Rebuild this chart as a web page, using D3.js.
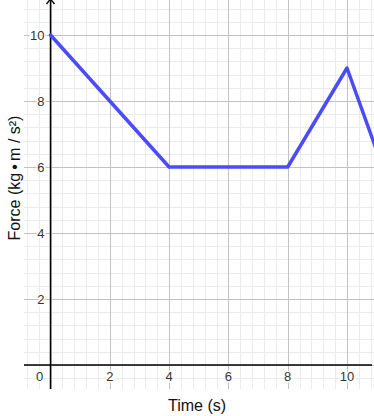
<!DOCTYPE html>
<html>
<head>
<meta charset="utf-8">
<style>
  body { margin: 0; background: #fff; }
  text { font-family: "Liberation Sans", Arial, sans-serif; }
</style>
</head>
<body>
<script src="https://d3js.org/d3.v7.min.js"></script>
<script>
// data
var times = [0, 4, 8, 10, 12];
var forces = [10, 6, 6, 9, 4];
var xTicks = [0, 2, 4, 6, 8, 10];
var yTicks = [2, 4, 6, 8, 10];

var width = 374, height = 416;

// plot region (grid area)
var plotLeft = 24, plotRight = 374, plotTop = 0, plotBottom = 389;

var x = d3.scaleLinear().domain([0, 10]).range([50.5, 347]);
var y = d3.scaleLinear().domain([0, 10]).range([365, 35]);

var svg = d3.select('body').append('svg')
    .attr('width', width)
    .attr('height', height);

svg.append('defs').append('clipPath').attr('id', 'plotClip')
  .append('rect')
    .attr('x', plotLeft).attr('y', plotTop)
    .attr('width', plotRight - plotLeft).attr('height', plotBottom - plotTop);

var grid = svg.append('g').attr('clip-path', 'url(#plotClip)');

var xMin = x.invert(plotLeft), xMax = x.invert(plotRight);
var yMin = y.invert(plotBottom), yMax = y.invert(plotTop);

// minor grid every 0.4, major every 2
function steps(lo, hi, s) {
  return d3.range(Math.ceil(lo / s), Math.floor(hi / s) + 1).map(function(i){ return i * s; });
}
var minorX = steps(xMin, xMax, 0.4), minorY = steps(yMin, yMax, 0.4);
var majorX = steps(xMin, xMax, 2), majorY = steps(yMin, yMax, 2);

function vLines(data, color) {
  grid.append('g').selectAll('line').data(data).enter().append('line')
      .attr('x1', function(d){ return Math.round(x(d)) + 0.5; })
      .attr('x2', function(d){ return Math.round(x(d)) + 0.5; })
      .attr('y1', plotTop).attr('y2', plotBottom)
      .attr('stroke', color).attr('stroke-width', 1);
}
function hLines(data, color) {
  grid.append('g').selectAll('line').data(data).enter().append('line')
      .attr('y1', function(d){ return Math.round(y(d)) + 0.5; })
      .attr('y2', function(d){ return Math.round(y(d)) + 0.5; })
      .attr('x1', plotLeft).attr('x2', plotRight)
      .attr('stroke', color).attr('stroke-width', 1);
}
vLines(minorX, '#ebebeb');
hLines(minorY, '#ebebeb');
vLines(majorX, '#c2c2c2');
hLines(majorY, '#c2c2c2');

// axes
grid.append('line')
    .attr('x1', plotLeft).attr('x2', plotRight - 2)
    .attr('y1', y(0)).attr('y2', y(0))
    .attr('stroke', '#000').attr('stroke-width', 1.5);
grid.append('line')
    .attr('x1', x(0)).attr('x2', x(0))
    .attr('y1', plotTop).attr('y2', plotBottom)
    .attr('stroke', '#000').attr('stroke-width', 1.5);
grid.append('path')
    .attr('d', 'M' + (x(0) - 4) + ',4 L' + x(0) + ',-1 L' + (x(0) + 4) + ',4')
    .attr('fill', 'none').attr('stroke', '#000').attr('stroke-width', 1.3);

// tick labels
var labelG = svg.append('g');
labelG.selectAll('.xl').data(xTicks).enter().append('text')
    .attr('x', function(d){ return d === 0 ? x(0) - 11 : x(d); })
    .attr('y', y(0) + 16)
    .attr('text-anchor', 'middle')
    .attr('font-size', 13)
    .attr('fill', '#333')
    .attr('stroke', '#fff').attr('stroke-width', 3).attr('paint-order', 'stroke')
    .text(function(d){ return d; });
labelG.selectAll('.yl').data(yTicks).enter().append('text')
    .attr('x', x(0) - 6)
    .attr('y', function(d){ return y(d) + 4.5; })
    .attr('text-anchor', 'end')
    .attr('font-size', 13)
    .attr('fill', '#333')
    .attr('stroke', '#fff').attr('stroke-width', 3).attr('paint-order', 'stroke')
    .text(function(d){ return d; });

// data line
var line = d3.line()
    .x(function(d){ return x(d[0]); })
    .y(function(d){ return y(d[1]); });
var pts = times.map(function(t, i){ return [t, forces[i]]; });
grid.append('path')
    .datum(pts)
    .attr('d', line)
    .attr('fill', 'none')
    .attr('stroke', '#4b4bf7')
    .attr('stroke-width', 3.5)
    .attr('stroke-linejoin', 'round')
    .attr('stroke-linecap', 'round');

// axis titles
svg.append('text')
    .attr('x', 197).attr('y', 411)
    .attr('text-anchor', 'middle')
    .attr('font-size', 16)
    .attr('fill', '#111')
    .text('Time (s)');
svg.append('text')
    .attr('transform', 'translate(20,178) rotate(-90)')
    .attr('text-anchor', 'middle')
    .attr('font-size', 16)
    .attr('fill', '#111')
    .text('Force (kg\u2009\u2022\u2009m / s\u00b2)');
</script>
</body>
</html>
